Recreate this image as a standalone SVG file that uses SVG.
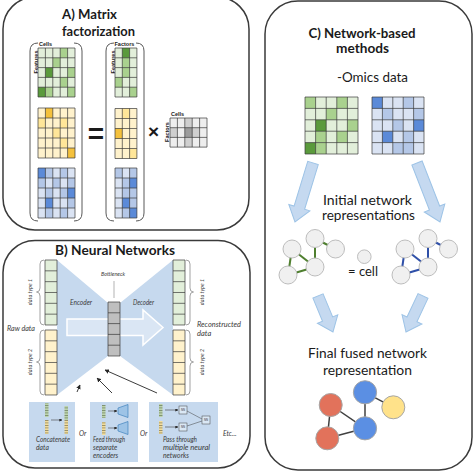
<svg xmlns="http://www.w3.org/2000/svg" width="474" height="472" viewBox="0 0 474 472">
<style>
.frame{fill:#fff;stroke:#3a3a3a;stroke-width:1.5}
.grid{fill:none;stroke:#3a3a3a;stroke-width:0.7;vector-effect:non-scaling-stroke}
.gL{fill:#e2efda}.gM{fill:#a9d18e}.gD{fill:#5a9a3c}
.yL{fill:#fff2cc}.yM{fill:#ffe699}.yD{fill:#f4c13d}
.bL{fill:#dae3f3}.bM{fill:#b4c7e7}.bD{fill:#5b8ad8}
.kL{fill:#eeeeee}.kM{fill:#cfcfcf}.kD{fill:#9c9c9c}
.br{fill:none;stroke:#595959;stroke-width:1}
.brc{fill:none;stroke:#8c8c8c;stroke-width:0.8}
.lab{font-family:"Liberation Sans",Arial,sans-serif;font-weight:bold;font-size:5.5px;fill:#1a1a1a}
.ttl{font-family:Lato,"Liberation Sans",sans-serif;font-weight:bold;font-size:13.5px;fill:#1a1a1a}
.txt{font-family:Lato,"Liberation Sans",sans-serif;font-size:13.5px;fill:#1a1a1a}
.it{font-family:Lato,"Liberation Sans",sans-serif;font-style:italic;font-size:7.5px;fill:#3a3a3a}
.sit{font-family:Lato,"Liberation Sans",sans-serif;font-style:italic;font-size:5.5px;fill:#3a3a3a}
.bit{font-family:Lato,"Liberation Sans",sans-serif;font-style:italic;font-size:6.8px;fill:#3a3a3a}
.nn{font-family:"Liberation Sans",Arial,sans-serif;font-size:2.8px;fill:#333}
.bx{fill:#c6d9ee}
.big{fill:#c5d9f0;stroke:#9dc3e6;stroke-width:1}
.nd{fill:#f0f0f0;stroke:#bdbdbd;stroke-width:1}
.eg{stroke:#4f7f2f;stroke-width:2}
.eb{stroke:#2f50a8;stroke-width:2}
.ef{stroke:#404040;stroke-width:1.5}
.ar{stroke:#262626;stroke-width:0.9;fill:none;marker-end:url(#ah)}
.sar{stroke:#404040;stroke-width:0.6;fill:none;marker-end:url(#ah)}
.nnb{fill:#dae8f5;stroke:#404040;stroke-width:0.5}
.trz{fill:#9dc3e6;stroke:#2e75b6;stroke-width:0.6}
</style>
<defs>
<marker id="ah" viewBox="0 0 10 10" refX="9" refY="5" markerWidth="5" markerHeight="5" orient="auto"><path d="M0,0 L10,5 L0,10 z" fill="#262626"/></marker>
<path id="g55" class="grid" d="M0,0H5V5H0Z M1,0V5 M2,0V5 M3,0V5 M4,0V5 M0,1H5 M0,2H5 M0,3H5 M0,4H5"/>
<path id="g35" class="grid" d="M0,0H3V5H0Z M1,0V5 M2,0V5 M0,1H3 M0,2H3 M0,3H3 M0,4H3"/>
<path id="g53" class="grid" d="M0,0H5V3H0Z M1,0V3 M2,0V3 M3,0V3 M4,0V3 M0,1H5 M0,2H5"/>
<path id="g16" class="grid" d="M0,0H1V6H0Z M0,1H1 M0,2H1 M0,3H1 M0,4H1 M0,5H1"/>
<path id="g15" class="grid" d="M0,0H1V5H0Z M0,1H1 M0,2H1 M0,3H1 M0,4H1"/>
<pattern id="pg" width="4" height="2.5" patternUnits="userSpaceOnUse"><rect width="4" height="2.5" fill="#bcd3ab"/><rect width="4" height="0.6" fill="#5d6f52"/></pattern>
<pattern id="py" width="4" height="2.5" patternUnits="userSpaceOnUse"><rect width="4" height="2.5" fill="#f2dd9c"/><rect width="4" height="0.6" fill="#6f6649"/></pattern>
</defs>

<!-- Panel A -->
<g id="panel-a">
<rect class="frame" x="3" y="-3" width="246" height="233" rx="32"/>
<text class="ttl" x="62" y="19" textLength="55" lengthAdjust="spacingAndGlyphs">A) Matrix</text>
<text class="ttl" x="62" y="36" textLength="73" lengthAdjust="spacingAndGlyphs">factorization</text>
<g id="a-data">
<path class="br" d="M38,43 Q30,43 30,51 V213 Q30,221 38,221 M74,43 Q82,43 82,51 V213 Q82,221 74,221"/>
<text class="lab" x="39" y="46">Cells</text>
<text class="lab" transform="translate(37.5,62) rotate(-90)" text-anchor="middle">Features</text>
<g transform="translate(38,48) scale(7.4,9.8)">
<rect width="5" height="5" class="gL"/>
<rect x="3" y="0" width="1" height="1" class="gM"/><rect x="2" y="1" width="1" height="1" class="gM"/><rect x="4" y="2" width="1" height="1" class="gM"/><rect x="3" y="3" width="1" height="1" class="gM"/><rect x="4" y="4" width="1" height="1" class="gM"/><rect x="1" y="4" width="1" height="1" class="gM"/>
<rect x="1" y="2" width="1" height="1" class="gD"/><rect x="0" y="4" width="1" height="1" class="gD"/>
<use href="#g55"/>
</g>
<g transform="translate(38,108) scale(7.4,10)">
<rect width="5" height="5" class="yL"/>
<rect x="0" y="1" width="1" height="1" class="yM"/><rect x="3" y="1" width="1" height="1" class="yM"/><rect x="3" y="3" width="1" height="1" class="yM"/><rect x="2" y="2" width="1" height="1" class="yM"/>
<rect x="1" y="0" width="1" height="1" class="yD"/><rect x="4" y="4" width="1" height="1" class="yD"/>
<use href="#g55"/>
</g>
<g transform="translate(38,168) scale(7.4,10)">
<rect width="5" height="5" class="bL"/>
<rect x="1" y="0" width="1" height="1" class="bM"/><rect x="3" y="0" width="1" height="1" class="bM"/><rect x="0" y="1" width="1" height="1" class="bM"/><rect x="2" y="1" width="1" height="1" class="bM"/><rect x="4" y="1" width="1" height="1" class="bM"/><rect x="1" y="2" width="1" height="1" class="bM"/><rect x="3" y="2" width="1" height="1" class="bM"/><rect x="4" y="3" width="1" height="1" class="bM"/><rect x="1" y="4" width="1" height="1" class="bM"/><rect x="3" y="4" width="1" height="1" class="bM"/>
<rect x="0" y="0" width="1" height="1" class="bD"/><rect x="4" y="2" width="1" height="1" class="bD"/><rect x="1" y="3" width="1" height="1" class="bD"/>
<use href="#g55"/>
</g>
</g>
<text class="lab" x="96" y="142.5" text-anchor="middle" style="font-size:28px">=</text>
<g id="a-factors">
<path class="br" d="M114,43 Q106,43 106,51 V213 Q106,221 114,221 M136,43 Q144,43 144,51 V213 Q144,221 136,221"/>
<text class="lab" x="114.5" y="46">Factors</text>
<text class="lab" transform="translate(114.5,62) rotate(-90)" text-anchor="middle">Features</text>
<g transform="translate(115,48) scale(7.3,9.8)">
<rect width="3" height="5" class="gL"/>
<rect x="1" y="1" width="1" height="1" class="gM"/><rect x="1" y="2" width="1" height="1" class="gM"/><rect x="0" y="3" width="1" height="1" class="gM"/><rect x="2" y="4" width="1" height="1" class="gM"/>
<rect x="1" y="0" width="1" height="1" class="gD"/>
<use href="#g35"/>
</g>
<g transform="translate(115,108.5) scale(7.3,10)">
<rect width="3" height="5" class="yL"/>
<rect x="1" y="0" width="1" height="1" class="yM"/><rect x="2" y="4" width="1" height="1" class="yM"/>
<rect x="0" y="2" width="1" height="1" class="yD"/>
<use href="#g35"/>
</g>
<g transform="translate(115,168) scale(7.3,10)">
<rect width="3" height="5" class="bL"/>
<rect x="0" y="0" width="1" height="1" class="bM"/><rect x="2" y="0" width="1" height="1" class="bM"/><rect x="1" y="1" width="1" height="1" class="bM"/><rect x="1" y="2" width="1" height="1" class="bM"/><rect x="2" y="2" width="1" height="1" class="bM"/><rect x="2" y="3" width="1" height="1" class="bM"/><rect x="1" y="4" width="1" height="1" class="bM"/>
<rect x="2" y="1" width="1" height="1" class="bD"/><rect x="1" y="3" width="1" height="1" class="bD"/><rect x="2" y="4" width="1" height="1" class="bD"/>
<use href="#g35"/>
</g>
</g>
<text class="lab" x="153.5" y="137.5" text-anchor="middle" style="font-size:19px">×</text>
<g id="a-weights">
<text class="lab" x="171" y="115.5">Cells</text>
<text class="lab" transform="translate(169,132) rotate(-90)" text-anchor="middle">Factors</text>
<g transform="translate(170,118) scale(7.4,9.7)">
<rect width="5" height="3" class="kL"/>
<rect x="2" y="0" width="1" height="1" class="kM"/><rect x="0" y="1" width="1" height="1" class="kM"/><rect x="3" y="1" width="1" height="1" class="kM"/>
<rect x="2" y="1" width="1" height="1" class="kD"/><rect x="2" y="2" width="1" height="1" class="kM"/>
<use href="#g53"/>
</g>
</g>
</g>

<!-- Panel B -->
<g id="panel-b">
<rect class="frame" x="3" y="240.5" width="247" height="227.5" rx="32"/>
<text class="ttl" x="55" y="255" textLength="120" lengthAdjust="spacingAndGlyphs">B) Neural Networks</text>
<g id="autoencoder">
<polygon fill="#c6d9ee" points="57,260 108,303 120,303 173,260 173,395 120,356 108,356 57,395"/>
<path d="M67,319 H143 V310 L163,327.5 L143,345 V335.5 H67 Z" fill="#ffffff" fill-opacity="0.35" stroke="#ffffff" stroke-width="1.5"/>
<text class="it" x="70" y="305" textLength="22" lengthAdjust="spacingAndGlyphs">Encoder</text>
<text class="it" x="133" y="305" textLength="21" lengthAdjust="spacingAndGlyphs">Decoder</text>
<text class="sit" x="113" y="276" text-anchor="middle">Bottleneck</text>
<line x1="114" y1="281" x2="114" y2="298" stroke="#7f7f7f" stroke-width="0.6"/>
<g transform="translate(108,302) scale(12,10.8)"><rect width="1" height="5" fill="#bfbfbf"/><use href="#g15"/></g>
</g>
<g id="raw-data">
<g transform="translate(45,260) scale(12,10.83)"><rect width="1" height="6" class="gL"/><use href="#g16"/></g>
<g transform="translate(45,330) scale(12,10.83)"><rect width="1" height="6" class="yL"/><use href="#g16"/></g>
<path class="brc" d="M44,260 Q40,260 40,264 V288 Q40,292 36.5,292 Q40,292 40,296 V321 Q40,325 44,325 M44,330 Q40,330 40,334 V358 Q40,362 36.5,362 Q40,362 40,366 V391 Q40,395 44,395"/>
<text class="sit" transform="translate(32,292) rotate(-90)" text-anchor="middle">data type 1</text>
<text class="sit" transform="translate(32,362) rotate(-90)" text-anchor="middle">data type 2</text>
<text class="it" x="7" y="331" textLength="28" lengthAdjust="spacingAndGlyphs">Raw data</text>
</g>
<g id="reconstructed-data">
<g transform="translate(173,260) scale(12,10.83)"><rect width="1" height="6" class="gL"/><use href="#g16"/></g>
<g transform="translate(173,330) scale(12,10.83)"><rect width="1" height="6" class="yL"/><use href="#g16"/></g>
<path class="brc" d="M186,260 Q190,260 190,264 V288 Q190,292 193.5,292 Q190,292 190,296 V321 Q190,325 186,325 M186,330 Q190,330 190,334 V358 Q190,362 193.5,362 Q190,362 190,366 V391 Q190,395 186,395"/>
<text class="sit" transform="translate(204,292) rotate(-90)" text-anchor="middle">data type 1</text>
<text class="sit" transform="translate(204,362) rotate(-90)" text-anchor="middle">data type 2</text>
<text class="it" x="197" y="327" textLength="44" lengthAdjust="spacingAndGlyphs">Reconstructed</text>
<text class="it" x="197" y="336">data</text>
</g>
<g id="opt-concatenate">
<rect class="bx" x="29" y="402" width="46" height="60"/>
<rect x="45" y="403" width="3.5" height="14" fill="url(#pg)"/>
<rect x="45" y="420" width="3.5" height="14" fill="url(#py)"/>
<line class="sar" x1="51" y1="420" x2="62" y2="420"/>
<rect x="64.5" y="406" width="3.5" height="14" fill="url(#pg)"/>
<rect x="64.5" y="420" width="3.5" height="14" fill="url(#py)"/>
<text class="bit" x="36" y="442" textLength="34" lengthAdjust="spacingAndGlyphs">Concatenate</text>
<text class="bit" x="36" y="450">data</text>
</g>
<text class="bit" x="79" y="436">Or</text>
<g id="opt-separate">
<rect class="bx" x="90" y="402" width="48" height="60"/>
<rect x="102" y="405" width="3.5" height="13" fill="url(#pg)"/>
<rect x="102" y="422" width="3.5" height="13" fill="url(#py)"/>
<line class="sar" x1="108" y1="411" x2="117" y2="411"/>
<line class="sar" x1="108" y1="428" x2="117" y2="428"/>
<polygon class="trz" points="118,408 128,404.5 128,417.5 118,414"/>
<polygon class="trz" points="118,425 128,421.5 128,434.5 118,431"/>
<text class="bit" x="93" y="442" textLength="32" lengthAdjust="spacingAndGlyphs">Feed through</text>
<text class="bit" x="93" y="450">separate</text>
<text class="bit" x="93" y="458">encoders</text>
</g>
<text class="bit" x="140" y="436">Or</text>
<g id="opt-multiple">
<rect class="bx" x="149" y="402" width="69" height="60"/>
<rect x="159" y="404" width="3.5" height="13" fill="url(#pg)"/>
<rect x="159" y="421" width="3.5" height="13" fill="url(#py)"/>
<line class="sar" x1="165" y1="410" x2="178" y2="410"/>
<line class="sar" x1="165" y1="427" x2="178" y2="427"/>
<line x1="187" y1="411" x2="202" y2="419" stroke="#404040" stroke-width="0.5"/>
<line x1="187" y1="426" x2="202" y2="421" stroke="#404040" stroke-width="0.5"/>
<rect class="nnb" x="179" y="406" width="8" height="8"/><text class="nn" x="183" y="411" text-anchor="middle">NN</text>
<rect class="nnb" x="179" y="423" width="8" height="8"/><text class="nn" x="183" y="428" text-anchor="middle">NN</text>
<rect class="nnb" x="202" y="416" width="8" height="8"/><text class="nn" x="206" y="421" text-anchor="middle">NN</text>
<text class="bit" x="163" y="442" textLength="34" lengthAdjust="spacingAndGlyphs">Pass through</text>
<text class="bit" x="163" y="450" textLength="47" lengthAdjust="spacingAndGlyphs">multiple neural</text>
<text class="bit" x="163" y="458">networks</text>
</g>
<text class="bit" x="223" y="436">Etc...</text>
</g>

<!-- Panel C -->
<g id="panel-c">
<rect class="frame" x="265" y="1" width="207" height="469" rx="33"/>
<text class="ttl" x="362" y="38" text-anchor="middle" textLength="107" lengthAdjust="spacingAndGlyphs">C) Network-based</text>
<text class="ttl" x="362.5" y="53" text-anchor="middle" textLength="53" lengthAdjust="spacingAndGlyphs">methods</text>
<text class="txt" x="372.5" y="82" text-anchor="middle" textLength="71" lengthAdjust="spacingAndGlyphs">-Omics data</text>
<g id="omics-green" transform="translate(305,97) scale(10.6,11.4)">
<rect width="5" height="5" class="gL"/>
<rect x="0" y="0" width="1" height="1" class="gM"/><rect x="3" y="0" width="1" height="1" class="gM"/><rect x="2" y="1" width="1" height="1" class="gM"/><rect x="4" y="2" width="1" height="1" class="gM"/><rect x="1" y="3" width="1" height="1" class="gM"/><rect x="3" y="3" width="1" height="1" class="gM"/><rect x="1" y="4" width="1" height="1" class="gM"/>
<rect x="1" y="2" width="1" height="1" class="gD"/><rect x="0" y="4" width="1" height="1" class="gD"/>
<use href="#g55"/>
</g>
<g id="omics-blue" transform="translate(372,97) scale(10.4,11.4)">
<rect width="5" height="5" class="bL"/>
<rect x="3" y="0" width="1" height="1" class="bM"/><rect x="1" y="1" width="1" height="1" class="bM"/><rect x="4" y="1" width="1" height="1" class="bM"/><rect x="2" y="2" width="1" height="1" class="bM"/><rect x="3" y="3" width="1" height="1" class="bM"/><rect x="2" y="4" width="1" height="1" class="bM"/><rect x="3" y="4" width="1" height="1" class="bM"/>
<rect x="0" y="0" width="1" height="1" class="bD"/><rect x="4" y="2" width="1" height="1" class="bD"/><rect x="1" y="3" width="1" height="1" class="bD"/>
<use href="#g55"/>
</g>
<text class="txt" x="367.5" y="205" text-anchor="middle" textLength="89" lengthAdjust="spacingAndGlyphs">Initial network</text>
<text class="txt" x="368.5" y="220" text-anchor="middle" textLength="93" lengthAdjust="spacingAndGlyphs">representations</text>
<text class="txt" x="348" y="276" textLength="30" lengthAdjust="spacingAndGlyphs">= cell</text>
<text class="txt" x="367.5" y="358" text-anchor="middle" textLength="119" lengthAdjust="spacingAndGlyphs">Final fused network</text>
<text class="txt" x="367.5" y="375" text-anchor="middle" textLength="89" lengthAdjust="spacingAndGlyphs">representation</text>
</g>

<!-- Connectors -->
<g id="connectors">
<line class="ar" x1="77" y1="392" x2="80" y2="385"/>
<line class="ar" x1="112" y1="393" x2="97" y2="378"/>
<line class="ar" x1="157" y1="393" x2="105" y2="370"/>
<path class="big" transform="translate(313,163) rotate(107)" d="M0,-5.5 H46.7 V-11 L61.7,0 L46.7,11 V5.5 H0 Z"/>
<path class="big" transform="translate(417,163) rotate(68.7)" d="M0,-5.5 H48.3 V-11 L63.3,0 L48.3,11 V5.5 H0 Z"/>
<path class="big" transform="translate(318,296) rotate(67.4)" d="M0,-5.5 H25 V-11 L39,0 L25,11 V5.5 H0 Z"/>
<path class="big" transform="translate(423,296) rotate(115.3)" d="M0,-5.5 H25.8 V-11 L39.8,0 L25.8,11 V5.5 H0 Z"/>
<g class="eg">
<line x1="292" y1="249" x2="315" y2="267"/><line x1="315" y1="238.5" x2="315" y2="267"/><line x1="315" y1="238.5" x2="335.5" y2="249"/><line x1="292" y1="249" x2="288" y2="275"/><line x1="288" y1="275" x2="315" y2="267"/>
</g>
<g class="eb">
<line x1="405" y1="249" x2="428" y2="267"/><line x1="428" y1="238.5" x2="428" y2="267"/><line x1="428" y1="238.5" x2="448.5" y2="249"/><line x1="405" y1="249" x2="401" y2="275"/><line x1="401" y1="275" x2="428" y2="267"/>
</g>
<g class="ef">
<line x1="330.7" y1="405" x2="365" y2="428.3"/><line x1="365" y1="392.3" x2="365" y2="428.3"/><line x1="365" y1="392.3" x2="393.3" y2="407.3"/><line x1="330.7" y1="405" x2="327.3" y2="438.3"/><line x1="327.3" y1="438.3" x2="365" y2="428.3"/>
</g>
</g>

<!-- Network nodes -->
<g id="net-green">
<circle class="nd" cx="292" cy="249" r="9"/><circle class="nd" cx="315" cy="238.5" r="9"/><circle class="nd" cx="335.5" cy="249" r="9"/><circle class="nd" cx="315" cy="267" r="9"/><circle class="nd" cx="288" cy="275" r="9"/>
</g>
<g id="legend-cell"><circle class="nd" cx="364.3" cy="256.7" r="6.8"/></g>
<g id="net-blue">
<circle class="nd" cx="405" cy="249" r="9"/><circle class="nd" cx="428" cy="238.5" r="9"/><circle class="nd" cx="448.5" cy="249" r="9"/><circle class="nd" cx="428" cy="267" r="9"/><circle class="nd" cx="401" cy="275" r="9"/>
</g>
<g id="net-fused" stroke="#a6a6a6" stroke-width="1">
<circle cx="330.7" cy="405" r="11.5" fill="#e2725b"/>
<circle cx="365" cy="392.3" r="11.6" fill="#5b8fe3"/>
<circle cx="393.3" cy="407.3" r="11.5" fill="#ffe28a"/>
<circle cx="365" cy="428.3" r="11.6" fill="#5b8fe3"/>
<circle cx="327.3" cy="438.3" r="11.5" fill="#e2725b"/>
</g>
</svg>
